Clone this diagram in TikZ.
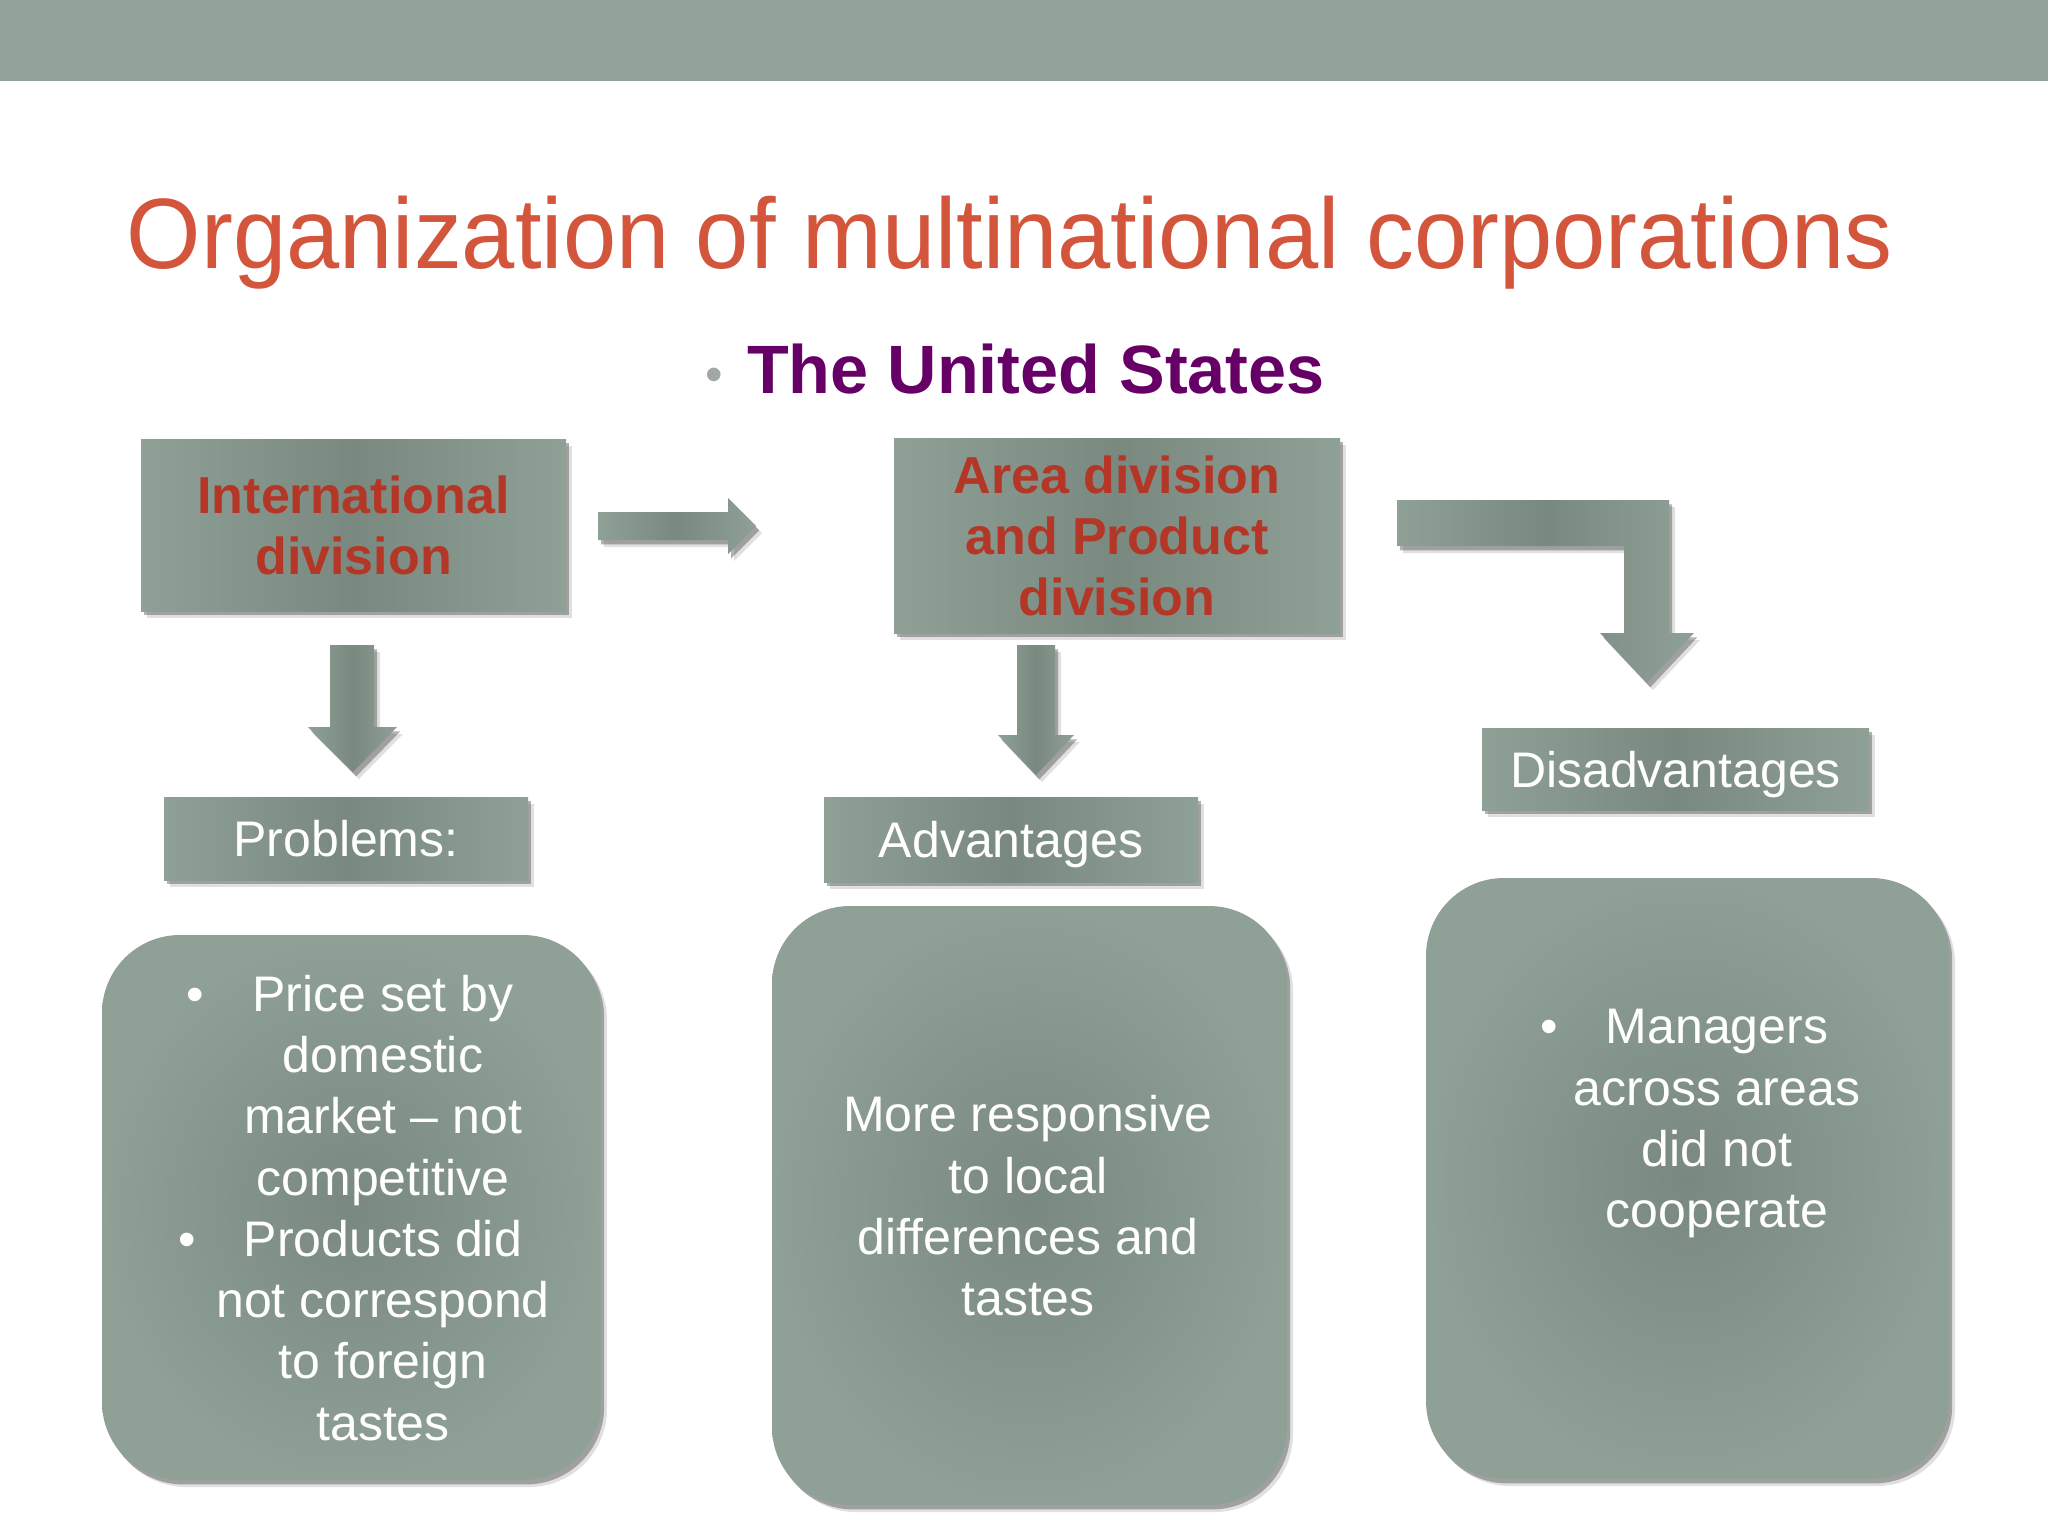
\documentclass[tikz,border=0pt]{standalone}
\usepackage{fontspec}
\setmainfont{Liberation Sans}
\usepackage{graphicx}
\usetikzlibrary{shadows}
\definecolor{band}{HTML}{93A29A}
\definecolor{titlered}{HTML}{D3563C}
\definecolor{boxred}{HTML}{B43626}
\definecolor{usp}{HTML}{660066}
\definecolor{bgray}{HTML}{A0A8A4}
\definecolor{fl}{HTML}{8FA096}
\definecolor{fd}{HTML}{79897F}
\tikzset{
  shad/.style={drop shadow={shadow xshift=3pt, shadow yshift=-3.5pt, opacity=0.12, fill=black},
               drop shadow={shadow xshift=1.6pt, shadow yshift=-2.2pt, opacity=0.40, fill=black!75}},
  hfill/.style={left color=fl, right color=fl, middle color=fd},
  rectbox/.style={shad, hfill, inner sep=0pt, align=center},
  redtext/.style={text=boxred, font=\bfseries\fontsize{26}{30.5}\selectfont},
  labelbox/.style={rectbox, text=white, font=\fontsize{25}{30.6}\selectfont, text height=18.2pt, text depth=0pt},
  roundbox/.style={shad, rounded corners=39pt, inner color=fd, outer color=fl, inner sep=0pt},
  bodytext/.style={text=white, font=\fontsize{25}{30.65}\selectfont, align=center, inner sep=0pt},
  blockarrow/.style={shad, hfill},
}
\newcommand{\wbul}{\llap{\textbullet\hspace{24pt}}}
\begin{document}
\begin{tikzpicture}[x=0.5pt,y=-0.5pt]
\useasboundingbox (0,0) rectangle (2048,1536);
\fill[white] (0,0) rectangle (2048,1536);
\fill[band] (0,0) rectangle (2048,81);

% title and subtitle
\node[anchor=base, text=titlered, font=\fontsize{50}{60}\selectfont, inner sep=0pt] (title) at (1010,268)
  {\scalebox{0.957}[1]{Organization of multinational corporations}};
\node[anchor=base, text=usp, font=\bfseries\fontsize{34.2}{40}\selectfont, inner sep=0pt] (us) at (1036,393)
  {\llap{\textcolor{bgray}{\mdseries\fontsize{25}{25}\selectfont\raisebox{1pt}{\textbullet}}\hspace{12pt}}The United States};

% top boxes
\node[rectbox, redtext, minimum width=212.5pt, minimum height=86pt] (intl) at (353.5,525)
  {International\\division};
\node[rectbox, redtext, minimum width=223pt, minimum height=97.5pt] (area) at (1117,535.5)
  {Area division\\and Product\\division};

% block arrows
\path[blockarrow] (598,512) -- (728,512) -- (728,498) -- (756,526) -- (728,554) -- (728,540) -- (598,540) -- cycle;
\path[blockarrow] (330,645) -- (374,645) -- (374,727) -- (397,727) -- (353,772) -- (308,727) -- (330,727) -- cycle;
\path[blockarrow] (1017,645) -- (1055,645) -- (1055,735) -- (1074,735) -- (1036,775) -- (998,735) -- (1017,735) -- cycle;
\path[blockarrow] (1397,500) -- (1669,500) -- (1669,633) -- (1694,633) -- (1647,683) -- (1600,633) -- (1624,633) -- (1624,546) -- (1397,546) -- cycle;

% label boxes
\node[labelbox, minimum width=182pt, minimum height=41.5pt] (prob) at (346,838.5) {Problems:};
\node[labelbox, minimum width=187pt, minimum height=42.5pt] (adv) at (1011,839.5) {Advantages};
\node[labelbox, minimum width=193.5pt, minimum height=41pt] (dis) at (1675.5,769) {Disadvantages};

% body boxes
\node[roundbox, minimum width=249.5pt, minimum height=272.5pt] (probbody) at (351.5,1207.5) {};
\node[roundbox, minimum width=257.5pt, minimum height=299.5pt] (advbody) at (1029.5,1205.5) {};
\node[roundbox, minimum width=261.5pt, minimum height=300.5pt] (disbody) at (1687.5,1178.5) {};

\node[bodytext, anchor=north] (probtext) at (383,974.5)
  {\wbul Price set by\\domestic\\market – not\\competitive\\\wbul Products did\\not correspond\\to foreign\\tastes};
\node[bodytext] (advtext) at (1028,1206)
  {More responsive\\to local\\differences and\\tastes};
\node[bodytext, anchor=north] (distext) at (1717,1009)
  {\wbul Managers\\across areas\\did not\\cooperate};
\end{tikzpicture}
\end{document}
